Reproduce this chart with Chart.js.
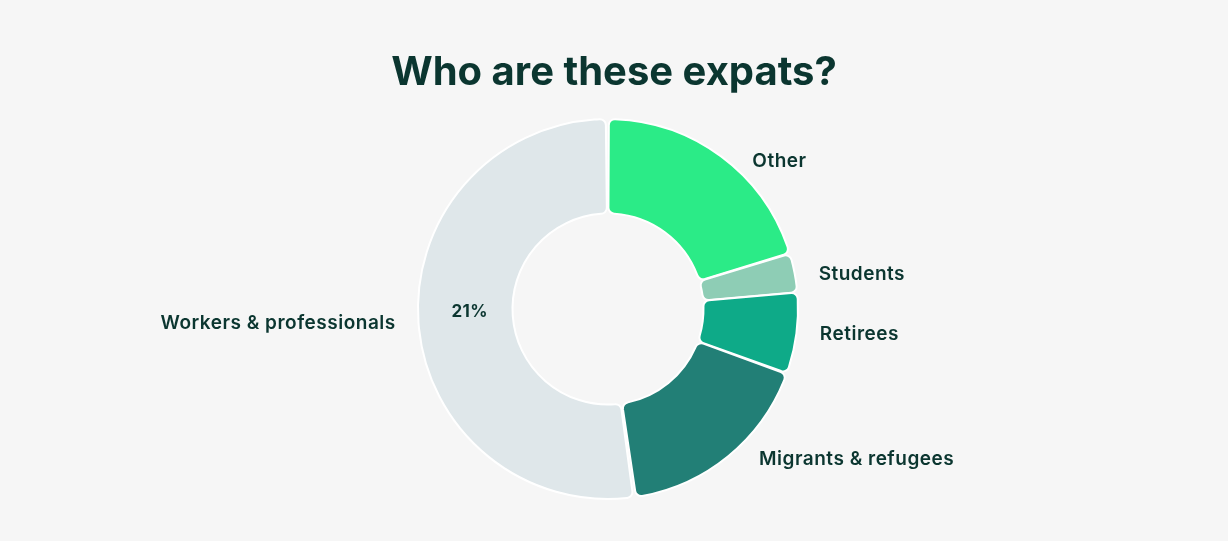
<!DOCTYPE html>
<html>
<head>
<meta charset="utf-8">
<script src="https://cdn.jsdelivr.net/npm/chart.js@4/dist/chart.umd.min.js"></script>
<style>
  html, body { margin: 0; padding: 0; background: #F6F6F6; }
  #wrap { width: 1228px; height: 541px; position: relative; }
</style>
</head>
<body>
<div id="wrap"><canvas id="c" width="1228" height="541"></canvas></div>
<script>
const titleText = 'Who are these expats?';
const categories = ['Other', 'Students', 'Retirees', 'Migrants & refugees', 'Workers & professionals'];
const shares = [20.3, 3.3, 6.9, 17.2, 52.3];
const valueLabels = ['', '', '', '', '21%'];
const colors = ['#2BEB87', '#8ECDB5', '#0EAA88', '#227F76', '#DFE7EA'];

const TEXT = '#0B3630';
const FONT = 'Inter, "Noto Sans", sans-serif';

const labelPlugin = {
  id: 'outerLabels',
  afterDatasetsDraw(chart) {
    const ctx = chart.ctx;
    const meta = chart.getDatasetMeta(0);
    ctx.save();
    ctx.fillStyle = TEXT;
    ctx.textBaseline = 'middle';
    meta.data.forEach((arc, i) => {
      const p = arc.getProps(['x', 'y', 'startAngle', 'endAngle', 'outerRadius', 'innerRadius'], true);
      const mid = (p.startAngle + p.endAngle) / 2;
      const cx = Math.cos(mid), sy = Math.sin(mid);
      const px = p.x + cx * p.outerRadius;
      const py = p.y + sy * p.outerRadius;
      const right = cx >= 0;
      const gap = 23 + 11 * Math.abs(sy);
      ctx.font = '600 19px ' + FONT;
      ctx.letterSpacing = '0.5px';
      ctx.textAlign = right ? 'left' : 'right';
      ctx.fillText(categories[i], px + (right ? gap : -gap), py + 5 * Math.abs(sy));
      if (valueLabels[i]) {
        const c = arc.tooltipPosition(true);
        ctx.font = '700 17px ' + FONT;
        ctx.letterSpacing = '0.3px';
        ctx.textAlign = 'center';
        ctx.fillText(valueLabels[i], c.x + 4, c.y - 7);
      }
    });
    // title
    ctx.font = '700 40px ' + FONT;
    ctx.letterSpacing = '0px';
    ctx.textAlign = 'center';
    ctx.textBaseline = 'alphabetic';
    ctx.fillText(titleText, chart.width / 2, 85);
    ctx.restore();
  }
};

new Chart(document.getElementById('c'), {
  type: 'doughnut',
  data: {
    labels: categories,
    datasets: [{
      data: shares,
      backgroundColor: colors,
      borderColor: '#FFFFFF',
      borderWidth: 2,
      borderRadius: 6,
      hoverOffset: 0
    }]
  },
  options: {
    responsive: false,
    animation: false,
    cutout: '50%',
    spacing: 2,
    layout: { padding: { top: 118, bottom: 41, left: 0, right: 12 } },
    plugins: {
      legend: { display: false },
      title: { display: false },
      tooltip: { enabled: false }
    }
  },
  plugins: [labelPlugin]
});
</script>
</body>
</html>
